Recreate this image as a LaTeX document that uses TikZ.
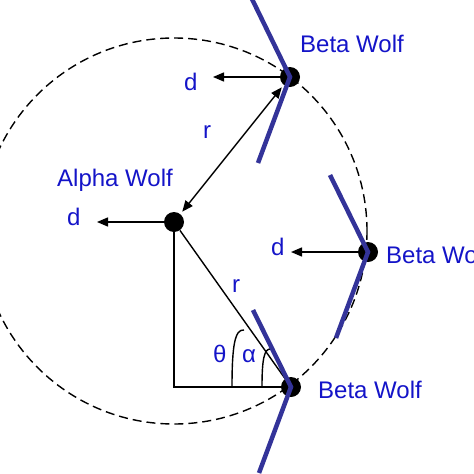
\documentclass[tikz,border=0pt]{standalone}
\usepackage{fontspec}
\setmainfont{Liberation Sans}
\usetikzlibrary{arrows.meta}
\definecolor{wolfblue}{RGB}{20,20,200}
\definecolor{wingblue}{RGB}{51,51,153}

\begin{document}
\begin{tikzpicture}[x=1pt, y=-1pt,
    wolf/.style={circle, fill=black, minimum size=20pt, inner sep=0pt},
    lbl/.style={text=wolfblue, inner sep=0pt, anchor=base west, font=\fontsize{24}{28}\selectfont},
    wing/.style={wingblue, line width=4.5pt},
    thin/.style={line width=1.4pt},
    tip/.style={-{Triangle[length=11pt, width=9pt]}}]
    \useasboundingbox (0,0) rectangle (474,474);
    \clip (0,0) rectangle (474,474);

    % Circle
    \draw[thin, dash pattern=on 9pt off 5pt] (174,231) circle[radius=193pt];

    % Draw nodes
    \node[wolf] (alpha) at (174,222) {};
    \node[wolf] (betaT) at (290,77) {};
    \node[wolf] (betaR) at (368,252) {};
    \node[wolf] (betaB) at (291,387) {};
    \coordinate (corner) at (174,387);
    \coordinate (dT) at (213,77);
    \coordinate (dA) at (97,222);
    \coordinate (dR) at (291,252);

    % Draw connections
    \draw[thin] (alpha) -- (corner) -- (betaB);
    \draw[thin] (alpha) -- (betaB);
    \draw[thin, {Triangle[length=11pt, width=9pt]}-{Triangle[length=11pt, width=9pt]}, shorten <=3pt, shorten >=3pt] (alpha) -- (betaT);
    \draw[thin, tip] (betaT) -- (dT);
    \draw[thin, tip] (alpha) -- (dA);
    \draw[thin, tip] (betaR) -- (dR);

    % Angles
    \draw[thin] (232,387) .. controls (232,345) and (235,329) .. (244,330);
    \draw[thin] (262,387) .. controls (262,360) and (264,348) .. (271,349);

    % Wings
    \draw[wing] (betaT.center) ++(-38,-78) -- (betaT.center) -- ++(-32,86);
    \draw[wing] (betaR.center) ++(-38,-77) -- (betaR.center) -- ++(-32,86);
    \draw[wing] (betaB.center) ++(-38,-77) -- (betaB.center) -- ++(-32,86);

    % Labels
    \node[lbl] (lblBetaT) at (300,52) {Beta Wolf};
    \node[lbl] (lblAlpha) at (57,186) {Alpha Wolf};
    \node[lbl] (lblBetaR) at (386,263) {Beta Wolf};
    \node[lbl] (lblBetaB) at (318,398) {Beta Wolf};
    \node[lbl] (lblDT) at (184,90) {d};
    \node[lbl] (lblDA) at (67,225) {d};
    \node[lbl] (lblDR) at (271,255) {d};
    \node[lbl] (lblRT) at (203,138) {r};
    \node[lbl] (lblRB) at (232,292) {r};
    \node[lbl] (lblTheta) at (213,362) {θ};
    \node[lbl] (lblAlph) at (242,362) {α};
\end{tikzpicture}
\end{document}
